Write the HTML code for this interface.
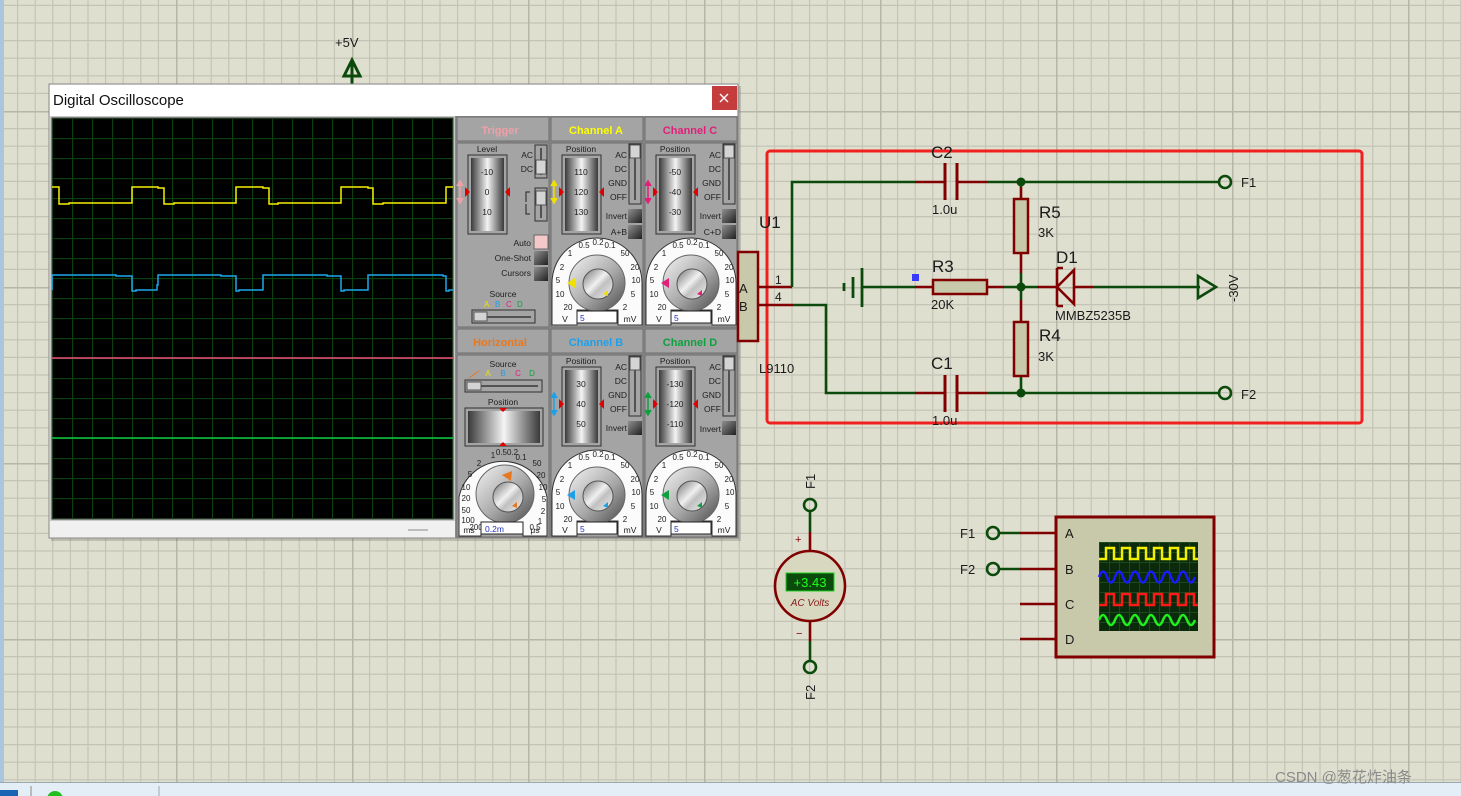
<!DOCTYPE html>
<html><head><meta charset="utf-8"><style>
html,body{margin:0;padding:0;width:1461px;height:796px;overflow:hidden;background:#dfdfd0}
svg{display:block}
text{font-family:"Liberation Sans",sans-serif}
.s{font-size:8.5px;fill:#202020}
.n{font-size:8px;fill:#202020}
.h{font-size:11px;font-weight:bold;text-anchor:middle}
.c{font-size:17px;fill:#1a1a1a}
.v{font-size:13px;fill:#1a1a1a}
</style></head><body>
<svg width="1461" height="796" viewBox="0 0 1461 796" xmlns="http://www.w3.org/2000/svg">
<defs>
<pattern id="grid" width="176" height="176" patternUnits="userSpaceOnUse" patternTransform="translate(0,111)">
<g stroke="#c4c4b6" stroke-width="1.2">
<path d="M17.6,0V176M35.2,0V176M52.8,0V176M70.4,0V176M88,0V176M105.6,0V176M123.2,0V176M140.8,0V176M158.4,0V176"/>
<path d="M0,17.6H176M0,35.2H176M0,52.8H176M0,70.4H176M0,88H176M0,105.6H176M0,123.2H176M0,140.8H176M0,158.4H176"/>
</g>
<path d="M0.5,0V176M0,0.5H176" stroke="#b6b6a8" stroke-width="2"/>
</pattern>
<pattern id="sg" width="20" height="20" patternUnits="userSpaceOnUse" patternTransform="translate(52,118)">
<path d="M0.5,0V20M0,0.5H20" stroke="#0b3f0b" stroke-width="1.3"/>
</pattern>
<pattern id="sg2" width="10" height="10" patternUnits="userSpaceOnUse" patternTransform="translate(1099,542)">
<path d="M0.5,0V10M0,0.5H10" stroke="#1a4a1a" stroke-width="1"/>
</pattern>
<linearGradient id="vg" x1="0" y1="0" x2="1" y2="0"><stop offset="0" stop-color="#3a3a3a"/><stop offset="0.5" stop-color="#f4f4f4"/><stop offset="1" stop-color="#3a3a3a"/></linearGradient>
<linearGradient id="vv" x1="0" y1="0" x2="0" y2="1"><stop offset="0" stop-color="#303030"/><stop offset="0.5" stop-color="#eeeeee"/><stop offset="1" stop-color="#303030"/></linearGradient>
<linearGradient id="kn" x1="0" y1="0" x2="1" y2="1"><stop offset="0" stop-color="#f4f4f4"/><stop offset="0.55" stop-color="#a8a8a8"/><stop offset="1" stop-color="#4a4a4a"/></linearGradient>
<linearGradient id="kn2" x1="0" y1="0" x2="1" y2="1"><stop offset="0" stop-color="#707070"/><stop offset="0.45" stop-color="#f0f0f0"/><stop offset="0.6" stop-color="#c0c0c0"/><stop offset="1" stop-color="#f0f0f0"/></linearGradient>
<linearGradient id="bt" x1="0" y1="0" x2="1" y2="1"><stop offset="0" stop-color="#909090"/><stop offset="1" stop-color="#202020"/></linearGradient>
</defs>
<rect width="1461" height="796" fill="#dfdfd0"/>
<rect width="1461" height="796" fill="url(#grid)"/>
<rect x="0" y="0" width="4" height="783" fill="#a9c6de"/>
<rect x="0" y="782" width="1461" height="14" fill="#e4eef6"/>
<line x1="0" y1="782.5" x2="1461" y2="782.5" stroke="#9aa8b4"/>
<rect x="0" y="790" width="18" height="6" fill="#1a64b4"/>
<circle cx="55" cy="799" r="8" fill="#20c020"/>
<line x1="31" y1="786" x2="31" y2="796" stroke="#888"/>
<line x1="159" y1="786" x2="159" y2="796" stroke="#9ab"/>
<text x="1275" y="782" style="font-size:15px;fill:#8a8a8a;font-family:'Liberation Sans','Noto Sans CJK SC',sans-serif">CSDN @葱花炸油条</text>

<!-- +5V -->
<text x="335" y="47" class="v">+5V</text>
<path d="M352,84V60M344,76L352,60L360,76Z" stroke="#0b4a0b" stroke-width="3" fill="none"/>

<!-- Oscilloscope window -->
<rect x="51" y="86" width="690" height="455" fill="#000" opacity="0.15"/>
<rect x="49" y="84" width="689" height="454" fill="#f0f0f0" stroke="#8a8a8a"/>
<rect x="50" y="85" width="687" height="31" fill="#ffffff"/>
<text x="53" y="105" style="font-size:15px;fill:#101010;font-family:'Liberation Sans',sans-serif">Digital Oscilloscope</text>
<rect x="712" y="86" width="25" height="24" fill="#c43c3c"/>
<path d="M720,94L728,102M728,94L720,102" stroke="#fff" stroke-width="1.4"/>
<rect x="50" y="116" width="405" height="405" fill="#c8c8c8"/>
<rect x="52" y="118" width="401" height="401" fill="#000"/>
<rect x="52" y="118" width="401" height="401" fill="url(#sg)"/>
<rect x="52" y="118" width="401" height="401" fill="none" stroke="#333" stroke-width="1"/>
<line x1="408" y1="530" x2="428" y2="530" stroke="#888"/>
<!-- waves -->
<path d="M52,187H59V204H69V203H132V187H158V188H164V204H174V203H236V187H263V188H269V204H278V203H341V187H368V188H373V204H383V203H446V187H453" stroke="#f5f000" stroke-width="1.5" fill="none"/>
<path d="M52,290V275H116V276H132V291H136V290H157V285H158V275H221V276H236V291H239V290H263V275H327V276H341V291H344V290H368V275H443V276H446V291H449V290H453" stroke="#1ea8ec" stroke-width="1.5" fill="none"/>
<line x1="52" y1="358" x2="453" y2="358" stroke="#f05078" stroke-width="1.5"/>
<line x1="52" y1="438" x2="453" y2="438" stroke="#10c840" stroke-width="1.5"/>

<!-- panel -->
<rect x="455" y="116" width="283" height="422" fill="#8c8c8c"/>
<g fill="#a4a4a4" stroke="#6e6e6e">
<rect x="457" y="117" width="92" height="24"/><rect x="551" y="117" width="92" height="24"/><rect x="645" y="117" width="92" height="24"/>
<rect x="457" y="329" width="92" height="24"/><rect x="551" y="329" width="92" height="24"/><rect x="645" y="329" width="92" height="24"/>
<rect x="457" y="143" width="92" height="184"/><rect x="551" y="143" width="92" height="184"/><rect x="645" y="143" width="92" height="184"/>
<rect x="457" y="355" width="92" height="182"/><rect x="551" y="355" width="92" height="182"/><rect x="645" y="355" width="92" height="182"/>
</g>
<text x="500" y="134" class="h" fill="#eea0a8">Trigger</text>
<text x="596" y="134" class="h" fill="#ffff00">Channel A</text>
<text x="690" y="134" class="h" fill="#e0207a">Channel C</text>
<text x="500" y="346" class="h" fill="#e87820">Horizontal</text>
<text x="596" y="346" class="h" fill="#1ea0e8">Channel B</text>
<text x="690" y="346" class="h" fill="#10a040">Channel D</text>

<!-- Trigger body -->
<g transform="translate(457,142)">
<text x="30" y="10" class="s" text-anchor="middle">Level</text>
<rect x="11" y="13" width="39" height="79" fill="#a4a4a4" stroke="#303030"/>
<rect x="14" y="16" width="33" height="73" fill="url(#vg)"/>
<text x="30" y="33" class="s" text-anchor="middle">-10</text>
<text x="30" y="53" class="s" text-anchor="middle">0</text>
<text x="30" y="73" class="s" text-anchor="middle">10</text>
<path d="M8,45L13,50L8,55ZM53,45L48,50L53,55Z" fill="#e00000"/>
<path d="M3,40V60M0,44L3,39L6,44M0,56L3,61L6,56" stroke="#eea0a8" stroke-width="1.5" fill="#eea0a8"/>
<text x="76" y="16" class="s" text-anchor="end">AC</text>
<text x="76" y="30" class="s" text-anchor="end">DC</text>
<rect x="78" y="3" width="12" height="33" fill="#a4a4a4" stroke="#303030"/>
<line x1="84" y1="6" x2="84" y2="33" stroke="#000"/>
<rect x="79" y="18" width="10" height="14" fill="#d4d4d4" stroke="#555"/>
<path d="M73,50H69V60M69,62V72H73" stroke="#222" fill="none"/>
<rect x="78" y="46" width="12" height="33" fill="#a4a4a4" stroke="#303030"/>
<line x1="84" y1="49" x2="84" y2="76" stroke="#000"/>
<rect x="79" y="49" width="10" height="14" fill="#d4d4d4" stroke="#555"/>
<text x="74" y="104" class="s" text-anchor="end">Auto</text>
<rect x="77" y="93" width="14" height="14" fill="#f4c8c8" stroke="#666"/>
<text x="74" y="119" class="s" text-anchor="end">One-Shot</text>
<rect x="77" y="109" width="14" height="14" fill="url(#bt)"/>
<text x="74" y="134" class="s" text-anchor="end">Cursors</text>
<rect x="77" y="125" width="14" height="14" fill="url(#bt)"/>
<text x="46" y="155" class="s" text-anchor="middle">Source</text>
<text x="27" y="165" class="n" fill="#f0e000" style="fill:#f0e000">A</text>
<text x="38" y="165" class="n" style="fill:#1ea0e8">B</text>
<text x="49" y="165" class="n" style="fill:#e0207a">C</text>
<text x="60" y="165" class="n" style="fill:#10a040">D</text>
<rect x="15" y="168" width="63" height="13" fill="#a4a4a4" stroke="#303030"/>
<line x1="20" y1="175" x2="74" y2="175" stroke="#000"/>
<rect x="17" y="170" width="13" height="9" fill="#d4d4d4" stroke="#555"/>
</g>

<!-- Channel A -->
<g transform="translate(551,142)">
<text x="30" y="10" class="s" text-anchor="middle">Position</text>
<rect x="11" y="13" width="39" height="79" fill="#a4a4a4" stroke="#303030"/>
<rect x="14" y="16" width="33" height="73" fill="url(#vg)"/>
<text x="30" y="33" class="s" text-anchor="middle">110</text>
<text x="30" y="53" class="s" text-anchor="middle">120</text>
<text x="30" y="73" class="s" text-anchor="middle">130</text>
<path d="M8,45L13,50L8,55ZM53,45L48,50L53,55Z" fill="#e00000"/>
<path d="M3,40V60M0,44L3,39L6,44M0,56L3,61L6,56" stroke="#f0e000" stroke-width="1.5" fill="#f0e000"/>
<text x="76" y="16" class="s" text-anchor="end">AC</text>
<text x="76" y="30" class="s" text-anchor="end">DC</text>
<text x="76" y="44" class="s" text-anchor="end">GND</text>
<text x="76" y="58" class="s" text-anchor="end">OFF</text>
<rect x="78" y="2" width="12" height="60" fill="#a4a4a4" stroke="#303030"/>
<line x1="84" y1="6" x2="84" y2="58" stroke="#000"/>
<rect x="79" y="3" width="10" height="13" fill="#d4d4d4" stroke="#555"/>
<text x="76" y="77" class="s" text-anchor="end">Invert</text>
<rect x="77" y="67" width="14" height="14" fill="url(#bt)"/>
<text x="76" y="93" class="s" text-anchor="end">A+B</text>
<rect x="77" y="83" width="14" height="14" fill="url(#bt)"/>
<path d="M1,183V141A45,45 0 0 1 91,141V183H67V168H26V183Z" fill="#fbfbfb" stroke="#333"/>
<circle cx="46" cy="141" r="28" fill="url(#kn)" stroke="#666"/>
<circle cx="47" cy="142" r="15" fill="url(#kn2)" stroke="#555"/>
<path d="M16,141L24,136V146Z" fill="#f0e000"/><path d="M52,152L57,148V154Z" fill="#f0e000"/>
<text x="33" y="106" class="n" text-anchor="middle">0.5</text><text x="47" y="103" class="n" text-anchor="middle">0.2</text><text x="59" y="106" class="n" text-anchor="middle">0.1</text>
<text x="19" y="114" class="n" text-anchor="middle">1</text><text x="11" y="128" class="n" text-anchor="middle">2</text><text x="7" y="141" class="n" text-anchor="middle">5</text><text x="9" y="155" class="n" text-anchor="middle">10</text><text x="17" y="168" class="n" text-anchor="middle">20</text>
<text x="74" y="114" class="n" text-anchor="middle">50</text><text x="84" y="128" class="n" text-anchor="middle">20</text><text x="85" y="141" class="n" text-anchor="middle">10</text><text x="82" y="155" class="n" text-anchor="middle">5</text><text x="74" y="168" class="n" text-anchor="middle">2</text>
<rect x="26" y="169" width="40" height="12" fill="#fff" stroke="#222"/>
<text x="29" y="179" class="s" style="fill:#2030c0">5</text>
<text x="14" y="180" class="s" text-anchor="middle">V</text>
<text x="79" y="180" class="s" text-anchor="middle">mV</text>
</g>

<!-- Channel C -->
<g transform="translate(645,142)">
<text x="30" y="10" class="s" text-anchor="middle">Position</text>
<rect x="11" y="13" width="39" height="79" fill="#a4a4a4" stroke="#303030"/>
<rect x="14" y="16" width="33" height="73" fill="url(#vg)"/>
<text x="30" y="33" class="s" text-anchor="middle">-50</text>
<text x="30" y="53" class="s" text-anchor="middle">-40</text>
<text x="30" y="73" class="s" text-anchor="middle">-30</text>
<path d="M8,45L13,50L8,55ZM53,45L48,50L53,55Z" fill="#e00000"/>
<path d="M3,40V60M0,44L3,39L6,44M0,56L3,61L6,56" stroke="#e0207a" stroke-width="1.5" fill="#e0207a"/>
<text x="76" y="16" class="s" text-anchor="end">AC</text>
<text x="76" y="30" class="s" text-anchor="end">DC</text>
<text x="76" y="44" class="s" text-anchor="end">GND</text>
<text x="76" y="58" class="s" text-anchor="end">OFF</text>
<rect x="78" y="2" width="12" height="60" fill="#a4a4a4" stroke="#303030"/>
<line x1="84" y1="6" x2="84" y2="58" stroke="#000"/>
<rect x="79" y="3" width="10" height="13" fill="#d4d4d4" stroke="#555"/>
<text x="76" y="77" class="s" text-anchor="end">Invert</text>
<rect x="77" y="67" width="14" height="14" fill="url(#bt)"/>
<text x="76" y="93" class="s" text-anchor="end">C+D</text>
<rect x="77" y="83" width="14" height="14" fill="url(#bt)"/>
<path d="M1,183V141A45,45 0 0 1 91,141V183H67V168H26V183Z" fill="#fbfbfb" stroke="#333"/>
<circle cx="46" cy="141" r="28" fill="url(#kn)" stroke="#666"/>
<circle cx="47" cy="142" r="15" fill="url(#kn2)" stroke="#555"/>
<path d="M16,141L24,136V146Z" fill="#e0207a"/><path d="M52,152L57,148V154Z" fill="#e0207a"/>
<text x="33" y="106" class="n" text-anchor="middle">0.5</text><text x="47" y="103" class="n" text-anchor="middle">0.2</text><text x="59" y="106" class="n" text-anchor="middle">0.1</text>
<text x="19" y="114" class="n" text-anchor="middle">1</text><text x="11" y="128" class="n" text-anchor="middle">2</text><text x="7" y="141" class="n" text-anchor="middle">5</text><text x="9" y="155" class="n" text-anchor="middle">10</text><text x="17" y="168" class="n" text-anchor="middle">20</text>
<text x="74" y="114" class="n" text-anchor="middle">50</text><text x="84" y="128" class="n" text-anchor="middle">20</text><text x="85" y="141" class="n" text-anchor="middle">10</text><text x="82" y="155" class="n" text-anchor="middle">5</text><text x="74" y="168" class="n" text-anchor="middle">2</text>
<rect x="26" y="169" width="40" height="12" fill="#fff" stroke="#222"/>
<text x="29" y="179" class="s" style="fill:#2030c0">5</text>
<text x="14" y="180" class="s" text-anchor="middle">V</text>
<text x="79" y="180" class="s" text-anchor="middle">mV</text>
</g>

<!-- Channel B -->
<g transform="translate(551,354)">
<text x="30" y="10" class="s" text-anchor="middle">Position</text>
<rect x="11" y="13" width="39" height="79" fill="#a4a4a4" stroke="#303030"/>
<rect x="14" y="16" width="33" height="73" fill="url(#vg)"/>
<text x="30" y="33" class="s" text-anchor="middle">30</text>
<text x="30" y="53" class="s" text-anchor="middle">40</text>
<text x="30" y="73" class="s" text-anchor="middle">50</text>
<path d="M8,45L13,50L8,55ZM53,45L48,50L53,55Z" fill="#e00000"/>
<path d="M3,40V60M0,44L3,39L6,44M0,56L3,61L6,56" stroke="#1ea0e8" stroke-width="1.5" fill="#1ea0e8"/>
<text x="76" y="16" class="s" text-anchor="end">AC</text>
<text x="76" y="30" class="s" text-anchor="end">DC</text>
<text x="76" y="44" class="s" text-anchor="end">GND</text>
<text x="76" y="58" class="s" text-anchor="end">OFF</text>
<rect x="78" y="2" width="12" height="60" fill="#a4a4a4" stroke="#303030"/>
<line x1="84" y1="6" x2="84" y2="58" stroke="#000"/>
<rect x="79" y="3" width="10" height="13" fill="#d4d4d4" stroke="#555"/>
<text x="76" y="77" class="s" text-anchor="end">Invert</text>
<rect x="77" y="67" width="14" height="14" fill="url(#bt)"/>
<path d="M1,182V141A45,45 0 0 1 91,141V182H67V167H26V182Z" fill="#fbfbfb" stroke="#333"/>
<circle cx="46" cy="141" r="28" fill="url(#kn)" stroke="#666"/>
<circle cx="47" cy="142" r="15" fill="url(#kn2)" stroke="#555"/>
<path d="M16,141L24,136V146Z" fill="#1ea0e8"/><path d="M52,152L57,148V154Z" fill="#1ea0e8"/>
<text x="33" y="106" class="n" text-anchor="middle">0.5</text><text x="47" y="103" class="n" text-anchor="middle">0.2</text><text x="59" y="106" class="n" text-anchor="middle">0.1</text>
<text x="19" y="114" class="n" text-anchor="middle">1</text><text x="11" y="128" class="n" text-anchor="middle">2</text><text x="7" y="141" class="n" text-anchor="middle">5</text><text x="9" y="155" class="n" text-anchor="middle">10</text><text x="17" y="168" class="n" text-anchor="middle">20</text>
<text x="74" y="114" class="n" text-anchor="middle">50</text><text x="84" y="128" class="n" text-anchor="middle">20</text><text x="85" y="141" class="n" text-anchor="middle">10</text><text x="82" y="155" class="n" text-anchor="middle">5</text><text x="74" y="168" class="n" text-anchor="middle">2</text>
<rect x="26" y="168" width="40" height="12" fill="#fff" stroke="#222"/>
<text x="29" y="178" class="s" style="fill:#2030c0">5</text>
<text x="14" y="179" class="s" text-anchor="middle">V</text>
<text x="79" y="179" class="s" text-anchor="middle">mV</text>
</g>

<!-- Channel D -->
<g transform="translate(645,354)">
<text x="30" y="10" class="s" text-anchor="middle">Position</text>
<rect x="11" y="13" width="39" height="79" fill="#a4a4a4" stroke="#303030"/>
<rect x="14" y="16" width="33" height="73" fill="url(#vg)"/>
<text x="30" y="33" class="s" text-anchor="middle">-130</text>
<text x="30" y="53" class="s" text-anchor="middle">-120</text>
<text x="30" y="73" class="s" text-anchor="middle">-110</text>
<path d="M8,45L13,50L8,55ZM53,45L48,50L53,55Z" fill="#e00000"/>
<path d="M3,40V60M0,44L3,39L6,44M0,56L3,61L6,56" stroke="#10a040" stroke-width="1.5" fill="#10a040"/>
<text x="76" y="16" class="s" text-anchor="end">AC</text>
<text x="76" y="30" class="s" text-anchor="end">DC</text>
<text x="76" y="44" class="s" text-anchor="end">GND</text>
<text x="76" y="58" class="s" text-anchor="end">OFF</text>
<rect x="78" y="2" width="12" height="60" fill="#a4a4a4" stroke="#303030"/>
<line x1="84" y1="6" x2="84" y2="58" stroke="#000"/>
<rect x="79" y="3" width="10" height="13" fill="#d4d4d4" stroke="#555"/>
<text x="76" y="78" class="s" text-anchor="end">Invert</text>
<rect x="77" y="67" width="14" height="14" fill="url(#bt)"/>
<path d="M1,182V141A45,45 0 0 1 91,141V182H67V167H26V182Z" fill="#fbfbfb" stroke="#333"/>
<circle cx="46" cy="141" r="28" fill="url(#kn)" stroke="#666"/>
<circle cx="47" cy="142" r="15" fill="url(#kn2)" stroke="#555"/>
<path d="M16,141L24,136V146Z" fill="#10a040"/><path d="M52,152L57,148V154Z" fill="#10a040"/>
<text x="33" y="106" class="n" text-anchor="middle">0.5</text><text x="47" y="103" class="n" text-anchor="middle">0.2</text><text x="59" y="106" class="n" text-anchor="middle">0.1</text>
<text x="19" y="114" class="n" text-anchor="middle">1</text><text x="11" y="128" class="n" text-anchor="middle">2</text><text x="7" y="141" class="n" text-anchor="middle">5</text><text x="9" y="155" class="n" text-anchor="middle">10</text><text x="17" y="168" class="n" text-anchor="middle">20</text>
<text x="74" y="114" class="n" text-anchor="middle">50</text><text x="84" y="128" class="n" text-anchor="middle">20</text><text x="85" y="141" class="n" text-anchor="middle">10</text><text x="82" y="155" class="n" text-anchor="middle">5</text><text x="74" y="168" class="n" text-anchor="middle">2</text>
<rect x="26" y="168" width="40" height="12" fill="#fff" stroke="#222"/>
<text x="29" y="178" class="s" style="fill:#2030c0">5</text>
<text x="14" y="179" class="s" text-anchor="middle">V</text>
<text x="79" y="179" class="s" text-anchor="middle">mV</text>
</g>

<!-- Horizontal -->
<g transform="translate(457,354)">
<text x="46" y="13" class="s" text-anchor="middle">Source</text>
<path d="M12,24L22,17" stroke="#e87820"/>
<text x="31" y="22" class="n" style="fill:#f0e000" text-anchor="middle">A</text>
<text x="46" y="22" class="n" style="fill:#1ea0e8" text-anchor="middle">B</text>
<text x="61" y="22" class="n" style="fill:#e0207a" text-anchor="middle">C</text>
<text x="75" y="22" class="n" style="fill:#10a040" text-anchor="middle">D</text>
<rect x="8" y="26" width="77" height="12" fill="#a4a4a4" stroke="#303030"/>
<line x1="12" y1="32" x2="81" y2="32" stroke="#000"/>
<rect x="10" y="28" width="14" height="8" fill="#d4d4d4" stroke="#555"/>
<text x="46" y="51" class="s" text-anchor="middle">Position</text>
<rect x="8" y="54" width="78" height="38" fill="#a4a4a4" stroke="#303030"/>
<rect x="11" y="57" width="72" height="32" fill="url(#vg)"/>
<path d="M42,54H50L46,58ZM42,92H50L46,88Z" fill="#e00000"/>
<path d="M2,182V143A45,45 0 0 1 90,143V182H66V168H24V182Z" fill="#fbfbfb" stroke="#333"/>
<circle cx="48" cy="140" r="29" fill="url(#kn)" stroke="#666"/>
<circle cx="51" cy="143" r="15" fill="url(#kn2)" stroke="#555"/>
<path d="M45,121L55,117L54,127Z" fill="#e87820"/><path d="M55,152L60,148V154Z" fill="#e87820"/>
<text x="36" y="104" class="n" text-anchor="middle">1</text><text x="50" y="101" class="n" text-anchor="middle">0.50.2</text><text x="64" y="106" class="n" text-anchor="middle">0.1</text>
<text x="22" y="112" class="n" text-anchor="middle">2</text><text x="13" y="123" class="n" text-anchor="middle">5</text><text x="9" y="136" class="n" text-anchor="middle">10</text><text x="9" y="147" class="n" text-anchor="middle">20</text><text x="9" y="159" class="n" text-anchor="middle">50</text><text x="11" y="169" class="n" text-anchor="middle">100</text>
<text x="80" y="112" class="n" text-anchor="middle">50</text><text x="84" y="124" class="n" text-anchor="middle">20</text><text x="86" y="136" class="n" text-anchor="middle">10</text><text x="87" y="148" class="n" text-anchor="middle">5</text><text x="86" y="160" class="n" text-anchor="middle">2</text><text x="83" y="170" class="n" text-anchor="middle">1</text>
<text x="19" y="176" class="n" text-anchor="middle">200</text>
<text x="78" y="176" class="n" text-anchor="middle">0.5</text>
<rect x="24" y="168" width="42" height="12" fill="#fff" stroke="#222"/>
<text x="28" y="178" class="s" style="fill:#2030c0">0.2m</text>
<text x="12" y="179" class="s" text-anchor="middle">ms</text>
<text x="78" y="179" class="s" text-anchor="middle">μs</text>
</g>

<!-- ===== Circuit ===== -->
<rect x="767" y="151" width="595" height="272" rx="3" fill="none" stroke="#f02020" stroke-width="3"/>
<!-- U1 -->
<rect x="738" y="252" width="20" height="89" fill="#c8c8aa" stroke="#800000" stroke-width="2.5"/>
<text x="739" y="293" class="v">A</text>
<text x="739" y="311" class="v">B</text>
<text x="759" y="228" class="c">U1</text>
<text x="759" y="373" class="v">L9110</text>
<text x="775" y="284" style="font-size:12px;fill:#1a1a1a;font-family:'Liberation Sans',sans-serif">1</text>
<text x="775" y="301" style="font-size:12px;fill:#1a1a1a;font-family:'Liberation Sans',sans-serif">4</text>
<g stroke-width="2.6" fill="none">
<path d="M758,287H792M758,305H793" stroke="#800000"/>
<path d="M792,287V182H915M793,305H826V393H915" stroke="#0b4a0b"/>
<path d="M915,182H945M957,182H987M915,393H945M957,393H987" stroke="#800000"/>
<path d="M945,163V200M957,163V200M945,375V412M957,375V412" stroke="#800000" stroke-width="3"/>
<path d="M987,182H1219M987,393H1219" stroke="#0b4a0b"/>
<path d="M1021,182V187M1021,273V300M1021,393V376" stroke="#0b4a0b"/>
<path d="M1021,187V199M1021,253V273M1021,300V322" stroke="#800000"/>
<path d="M862,287H915M1004,287H1037M1093,287H1200" stroke="#0b4a0b"/>
<path d="M915,287H933M987,287H1004M1037,287H1057M1074,287H1093" stroke="#800000"/>
<path d="M844,283V291M853,277V298M862,268V307" stroke="#0b4a0b" stroke-width="2.8"/>
<circle cx="1225" cy="182" r="6" stroke="#0b4a0b"/>
<circle cx="1225" cy="393" r="6" stroke="#0b4a0b"/>
<path d="M1198,276L1216,287L1198,298Z" stroke="#0b4a0b"/>
<path d="M1057,268V306M1057,268H1063M1057,306H1063M1057,287L1074,270V304Z" stroke="#800000"/>
</g>
<rect x="1014" y="199" width="14" height="54" fill="#c8c8aa" stroke="#800000" stroke-width="2.5"/>
<rect x="1014" y="322" width="14" height="54" fill="#c8c8aa" stroke="#800000" stroke-width="2.5"/>
<rect x="933" y="280" width="54" height="14" fill="#c8c8aa" stroke="#800000" stroke-width="2.5"/>
<circle cx="1021" cy="182" r="4.5" fill="#0b4a0b"/>
<circle cx="1021" cy="287" r="4.5" fill="#0b4a0b"/>
<circle cx="1021" cy="393" r="4.5" fill="#0b4a0b"/>
<rect x="912" y="274" width="7" height="7" fill="#3a3aff"/>
<text x="931" y="158" class="c">C2</text>
<text x="932" y="214" class="v">1.0u</text>
<text x="1039" y="218" class="c">R5</text>
<text x="1038" y="237" class="v">3K</text>
<text x="1056" y="263" class="c">D1</text>
<text x="932" y="272" class="c">R3</text>
<text x="931" y="309" class="v">20K</text>
<text x="1055" y="320" class="v">MMBZ5235B</text>
<text x="1039" y="341" class="c">R4</text>
<text x="1038" y="361" class="v">3K</text>
<text x="931" y="369" class="c">C1</text>
<text x="932" y="425" class="v">1.0u</text>
<text x="1241" y="187" class="v">F1</text>
<text x="1241" y="399" class="v">F2</text>
<text transform="translate(1238,302) rotate(-90)" class="v">-30V</text>

<!-- Voltmeter -->
<g stroke-width="2.6" fill="none">
<path d="M810,511V532M810,641V661" stroke="#0b4a0b"/>
<path d="M810,532V551M810,621V641" stroke="#800000"/>
<circle cx="810" cy="505" r="6" stroke="#0b4a0b"/>
<circle cx="810" cy="667" r="6" stroke="#0b4a0b"/>
</g>
<circle cx="810" cy="586" r="35" fill="#d8d8c0" stroke="#800000" stroke-width="2.6"/>
<rect x="786" y="573" width="48" height="18" fill="#0a4a0a" stroke="#20d020"/>
<text x="810" y="587" text-anchor="middle" style="font-size:13px;fill:#20ff20;font-family:'Liberation Sans',sans-serif">+3.43</text>
<text x="810" y="606" text-anchor="middle" style="font-size:10px;font-style:italic;fill:#8a1a1a;font-family:'Liberation Sans',sans-serif">AC Volts</text>
<text x="795" y="543" style="font-size:11px;fill:#800000;font-family:'Liberation Sans',sans-serif">+</text>
<text x="796" y="637" style="font-size:11px;fill:#800000;font-family:'Liberation Sans',sans-serif">−</text>
<text transform="translate(815,489) rotate(-90)" class="v">F1</text>
<text transform="translate(815,700) rotate(-90)" class="v">F2</text>

<!-- Scope symbol -->
<g stroke-width="2.6" fill="none">
<path d="M999,533H1020M999,569H1020" stroke="#0b4a0b"/>
<path d="M1020,533H1056M1020,569H1056M1020,604H1056M1020,639H1056" stroke="#800000"/>
<circle cx="993" cy="533" r="6" stroke="#0b4a0b"/>
<circle cx="993" cy="569" r="6" stroke="#0b4a0b"/>
</g>
<rect x="1056" y="517" width="158" height="140" fill="#c8c8aa" stroke="#800000" stroke-width="3"/>
<text x="960" y="538" class="v">F1</text>
<text x="960" y="574" class="v">F2</text>
<text x="1065" y="538" class="v">A</text>
<text x="1065" y="574" class="v">B</text>
<text x="1065" y="609" class="v">C</text>
<text x="1065" y="644" class="v">D</text>
<rect x="1099" y="542" width="99" height="89" fill="#0b2a0b"/>
<rect x="1099" y="542" width="99" height="89" fill="url(#sg2)"/>
<path d="M1099,559H1106V548H1114V559H1122V548H1130V559H1138V548H1146V559H1154V548H1162V559H1170V548H1178V559H1186V548H1194V559H1198" stroke="#f0f000" stroke-width="2.5" fill="none"/>
<path d="M1099,577Q1103,566 1107,577T1115,577T1123,577T1131,577T1139,577T1147,577T1155,577T1163,577T1171,577T1179,577T1187,577T1195,577" stroke="#1a1aff" stroke-width="2.5" fill="none"/>
<path d="M1099,605H1106V594H1114V605H1122V594H1130V605H1138V594H1146V605H1154V594H1162V605H1170V594H1178V605H1186V594H1194V605H1198" stroke="#ff1a1a" stroke-width="2.5" fill="none"/>
<path d="M1099,620Q1103,610 1107,620T1115,620T1123,620T1131,620T1139,620T1147,620T1155,620T1163,620T1171,620T1179,620T1187,620T1195,620" stroke="#20f020" stroke-width="2.5" fill="none"/>
</svg>
</body></html>
